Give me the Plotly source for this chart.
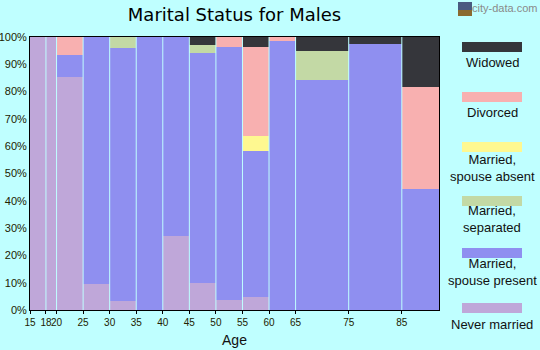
import plotly.graph_objects as go

# Age bins (edges) and bin labels on the x axis
edges = [15, 18, 20, 25, 30, 35, 40, 45, 50, 55, 60, 65, 75, 85, 92]
tick_vals = [15, 18, 20, 25, 30, 35, 40, 45, 50, 55, 60, 65, 75, 85]

# Share of males (%) in each age bin, by marital status
never_married = [100, 100, 85.5, 9.5, 3.3, 0, 27.1, 9.9, 3.7, 4.8, 0, 0, 0, 0]
spouse_present = [0, 0, 8.0, 90.5, 92.8, 100, 72.9, 84.1, 92.5, 53.5, 98.7, 84.4, 97.6, 44.4]
spouse_absent = [0, 0, 0, 0, 0, 0, 0, 0, 0, 5.5, 0, 0, 0, 0]
separated = [0, 0, 0, 0, 3.9, 0, 0, 2.9, 0, 0, 0, 10.6, 0, 0]
divorced = [0, 0, 6.5, 0, 0, 0, 0, 0, 3.8, 32.7, 1.3, 0, 0, 37.4]
widowed = [0, 0, 0, 0, 0, 0, 0, 3.1, 0, 3.5, 0, 5.0, 2.4, 18.2]

series = [
    ("Never married", never_married, "#bfa7d9"),
    ("Married,<br>spouse present", spouse_present, "#8f8ff0"),
    ("Married,<br>spouse absent", spouse_absent, "#fef890"),
    ("Married,<br>separated", separated, "#c3d9a5"),
    ("Divorced", divorced, "#f8b0b0"),
    ("Widowed", widowed, "#35363b"),
]

BG = "#bfffff"
X_TICK_FONT = dict(family="Liberation Sans Narrow, Arial Narrow, Liberation Sans", size=10, color="#222200")
Y_TICK_FONT = dict(family="Liberation Sans Narrow, Arial Narrow, Liberation Sans", size=11, color="#222200")
centers = [(a + b) / 2 for a, b in zip(edges[:-1], edges[1:])]
widths = [b - a for a, b in zip(edges[:-1], edges[1:])]

fig = go.Figure()
for name, vals, color in series:
    fig.add_trace(go.Bar(
        x=centers, y=vals, width=widths, name=name,
        marker=dict(color=color, line=dict(width=0)),
        showlegend=False,
    ))

# thin separators between age bins
shapes = []
for e in edges[1:-1]:
    shapes.append(dict(type="line", xref="x", yref="y", x0=e, x1=e, y0=0, y1=100,
                       line=dict(color=BG, width=1), layer="above"))

# legend on the right: swatch with a label beneath
PL, PR, PT, PB = 30, 439, 37, 310
def px_x(p):
    return (p - PL) / (PR - PL)
def px_y(p):
    return (PB - p) / (PB - PT)

legend_items = [
    ("Widowed", "#35363b", 42, 62),
    ("Divorced", "#f8b0b0", 92, 112),
    ("Married,<br>spouse absent", "#fef890", 142, 168),
    ("Married,<br>separated", "#c3d9a5", 196, 219),
    ("Married,<br>spouse present", "#8f8ff0", 248, 272),
    ("Never married", "#bfa7d9", 303, 324),
]
annotations = []
for label, color, top, text_y in legend_items:
    shapes.append(dict(type="rect", xref="paper", yref="paper",
                       x0=px_x(462), x1=px_x(522), y0=px_y(top + 10), y1=px_y(top),
                       fillcolor=color, line=dict(width=0)))
    annotations.append(dict(text=label, xref="paper", yref="paper",
                            x=px_x(492), y=px_y(text_y), xanchor="center", yanchor="middle",
                            showarrow=False, align="center",
                            font=dict(family="Liberation Sans, Arial", size=13, color="#111111")))

# site mark in the top right corner
shapes.append(dict(type="rect", xref="paper", yref="paper",
                   x0=px_x(458), x1=px_x(472), y0=px_y(16), y1=px_y(2),
                   fillcolor="#4a5a80", line=dict(width=0)))
shapes.append(dict(type="rect", xref="paper", yref="paper",
                   x0=px_x(458), x1=px_x(472), y0=px_y(16), y1=px_y(10),
                   fillcolor="#8a6a30", line=dict(width=0)))
annotations.append(dict(text="city-data.com", xref="paper", yref="paper",
                        x=px_x(539), y=px_y(8), xanchor="right", yanchor="middle",
                        showarrow=False,
                        font=dict(family="Liberation Sans, Arial", size=11, color="#8a8a8a")))

fig.update_layout(
    width=540, height=350,
    margin=dict(l=PL, r=540 - PR, t=PT, b=350 - PB, autoexpand=False),
    paper_bgcolor=BG, plot_bgcolor=BG,
    barmode="stack", bargap=0,
    title=dict(text="Marital Status for Males", x=(PL + PR) / 2 / 540, xanchor="center",
               y=1 - 15 / 350, yanchor="middle",
               font=dict(family="DejaVu Sans", size=18, color="#000000")),
    shapes=shapes,
    annotations=annotations,
    xaxis=dict(range=[edges[0], edges[-1]], tickvals=tick_vals,
               ticktext=[str(v) for v in tick_vals], tickangle=0, automargin=False,
               showgrid=False, zeroline=False,
               showline=True, linecolor="#000000", linewidth=1, mirror=True,
               ticks="outside", ticklen=3, tickcolor="#000000",
               tickfont=X_TICK_FONT,
               title=dict(text="Age", standoff=8,
                          font=dict(family="Liberation Sans, Arial", size=14, color="#111111"))),
    yaxis=dict(range=[0, 100], tickvals=list(range(0, 101, 10)),
               ticktext=[f"{v}%" for v in range(0, 101, 10)], automargin=False,
               showgrid=False, zeroline=False,
               showline=True, linecolor="#000000", linewidth=1, mirror=True,
               ticks="", ticklen=0,
               tickfont=Y_TICK_FONT),
)

fig.write_html("out.html")
